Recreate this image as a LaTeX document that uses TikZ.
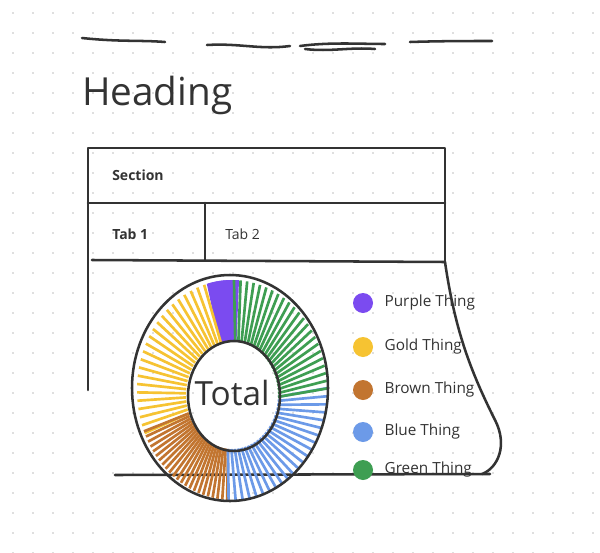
\documentclass[tikz,border=0pt]{standalone}
\usepackage{fontspec}
\setmainfont{Open Sans}
\usetikzlibrary{positioning}
\definecolor{purplething}{HTML}{7B4BF0}
\definecolor{goldthing}{HTML}{F6C332}
\definecolor{brownthing}{HTML}{C27530}
\definecolor{bluething}{HTML}{6C9AE8}
\definecolor{greenthing}{HTML}{3E9E52}
\definecolor{ink}{HTML}{333333}
\begin{document}
\begin{tikzpicture}[x=0.75pt, y=-0.75pt,
    pen/.style={draw=ink, line width=1.9pt, line cap=round, line join=round},
    lbl/.style={anchor=west, font=\fontsize{11.5}{13}\selectfont, text=ink, inner sep=0pt},
    tab/.style={anchor=west, font=\fontsize{10.5}{12}\selectfont, text=ink, inner sep=0pt},
    blob/.style={circle, minimum size=15pt, inner sep=0pt}]
  \useasboundingbox[fill=white] (0,0) rectangle (600,553);
  % dot grid
  \foreach \i in {0,...,29} \foreach \j in {0,...,27}
    \fill[black!25] (13+20*\i, 13+20*\j) circle (0.6pt);

  % top squiggles
  \draw[pen] (82,38) .. controls (120,42) and (140,40) .. (165,42);
  \draw[pen] (207,45) .. controls (240,43) and (260,50) .. (290,46);
  \draw[pen] (300,46) .. controls (330,42) and (360,44) .. (385,44);
  \draw[pen] (305,49) .. controls (330,52) and (350,47) .. (375,49);
  \draw[pen] (410,42) .. controls (440,41) and (470,41) .. (492,41);

  \node[anchor=west, inner sep=0pt, font=\fontsize{29}{32}\selectfont, text=ink] (heading) at (82,95) {Heading};

  % table frame
  \coordinate (tl) at (88,148);
  \coordinate (tr) at (445,148);
  \draw[pen] (88,390) -- (tl) -- (tr) -- (445,262);
  \draw[pen] (88,203) -- (445,203);
  \draw[pen] (92,260) -- (445,262);
  \draw[pen] (205,203) -- (205,260);
  \draw[pen] (445,262) .. controls (455,330) and (470,370) .. (495,420)
     .. controls (508,445) and (498,468) .. (482,474);
  \draw[pen] (115,475) -- (490,474);
  \node[tab, font=\bfseries\fontsize{10.5}{12}\selectfont] (section) at (112,175) {Section};
  \node[tab, font=\bfseries\fontsize{10.5}{12}\selectfont] (tab1) at (112,234) {Tab 1};
  \node[tab] (tab2) at (225,234) {Tab 2};

  % donut scribbles
  \foreach \a/\b/\c in {86/104/purplething, 104/200/goldthing, 200/265/brownthing,
                        265/358/bluething, -2/86/greenthing}
    \foreach \t in {0,...,22}
      \draw[\c, line width=2pt]
        ({232+46*cos(\a+(\b-\a)*\t/22)},{395-54*sin(\a+(\b-\a)*\t/22)}) --
        ({232+95*cos(\a+(\b-\a)*(\t+0.7)/22)},{390-110*sin(\a+(\b-\a)*(\t+0.7)/22)});
  \draw[pen] (230,388) ellipse (98 and 113);
  \draw[pen] (234,396) ellipse (46 and 55);
  \node[font=\fontsize{25}{27}\selectfont, text=ink] (total) at (232,393) {Total};

  % legend
  \foreach \y/\c/\t [count=\k] in {303/purplething/Purple Thing, 347/goldthing/Gold Thing,
      390/brownthing/Brown Thing, 432/bluething/Blue Thing, 470/greenthing/Green Thing}
  {
    \node[blob, fill=\c] (b\k) at (363,\y) {};
    \node[lbl, right=16pt of b\k.center] (l\k) {\t};
  }
\end{tikzpicture}
\end{document}
